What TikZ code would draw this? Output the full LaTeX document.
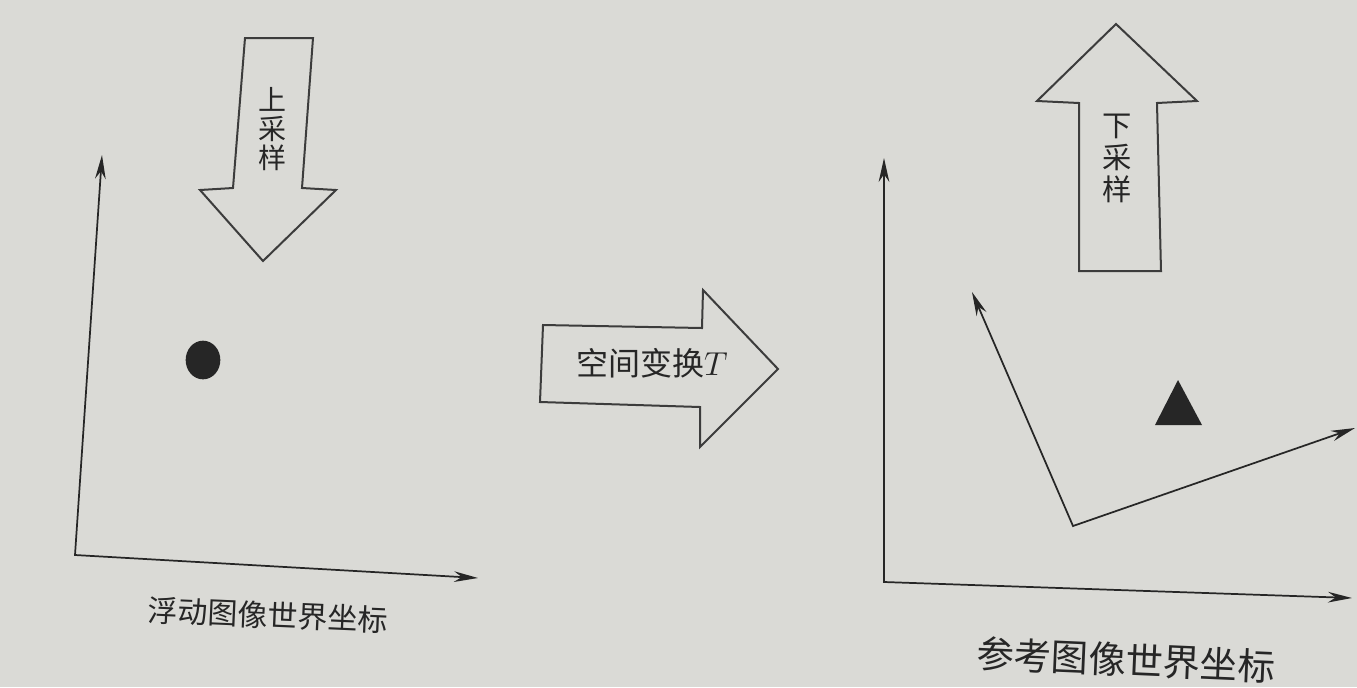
\documentclass[tikz,border=0pt]{standalone}
\usepackage{fontspec}
\newfontfamily\cjk{Noto Sans CJK SC}
\usetikzlibrary{arrows.meta}
\usetikzlibrary{shapes.geometric}
\definecolor{paper}{RGB}{218,218,214}
\definecolor{ink}{RGB}{38,38,38}

\begin{document}
\begin{tikzpicture}[x=0.75pt,y=0.75pt,yscale=-1,xscale=1,
  axis/.style={draw=ink, line width=1.3pt, {Stealth[length=18pt,width=8pt]}-{Stealth[length=18pt,width=8pt]}},
  blockarrow/.style={draw=ink!90, line width=1.5pt, line join=miter},
  cjklabel/.style={font=\cjk\fontsize{24}{28}\selectfont, text=ink, inner sep=0.75pt}]
%set diagram size to the reference, with the paper tone as background
\fill[paper] (0,0) rectangle (1357,687);
\useasboundingbox (0,0) rectangle (1357,687);

%Shape: Axis 2D, floating image
\coordinate (fo) at (75,555);
\coordinate (fy) at (102,155);
\coordinate (fx) at (478,578);
\draw[axis] (fy) -- (fo) -- (fx);
%Shape: Circle
\node[ellipse, fill=ink, minimum width=26pt, minimum height=29pt, inner sep=0pt] (dot) at (203,360) {};

%Shape: Block arrow, up-sampling
\draw[blockarrow] (245,38) -- (313,38) -- (302,188) -- (336,190) -- (263,261) -- (200,190) -- (233,188) -- cycle;
\node[cjklabel, align=center, font=\cjk\fontsize{21}{22}\selectfont] (up) at (272,129) {上\\采\\样};

%Shape: Block arrow, spatial transform
\draw[blockarrow] (543,325) -- (702,328) -- (703,290) -- (778,369) -- (700,447) -- (700,407) -- (540,402) -- cycle;
\node[cjklabel] (trans) at (652,363) {空间变换$T$};

%Shape: Block arrow, down-sampling
\draw[blockarrow] (1116,24) -- (1197,101) -- (1157,103) -- (1161,271) -- (1079,271) -- (1079,103) -- (1037,101) -- cycle;
\node[cjklabel, align=center, font=\cjk\fontsize{22}{24}\selectfont] (down) at (1117,158) {下\\采\\样};

%Shape: Axis 2D, reference image
\coordinate (ro) at (884,582);
\coordinate (ry) at (884,158);
\coordinate (rx) at (1352,598);
\draw[axis] (ry) -- (ro) -- (rx);
%Shape: Axis 2D, transformed frame
\coordinate (to) at (1073,526);
\coordinate (ty) at (972,292);
\coordinate (tx) at (1355,428);
\draw[axis] (ty) -- (to) -- (tx);
%Shape: Triangle
\fill[ink] (1178,380) -- (1155,425) -- (1202,425) -- cycle;

% Text Node
\node[cjklabel, rotate=-2.5, font=\cjk\fontsize{22.5}{26}\selectfont] (flabel) at (268,615) {浮动图像世界坐标};
% Text Node
\node[cjklabel, rotate=-2.5, font=\cjk\fontsize{28}{32}\selectfont] (rlabel) at (1126,660) {参考图像世界坐标};
\end{tikzpicture}
\end{document}
